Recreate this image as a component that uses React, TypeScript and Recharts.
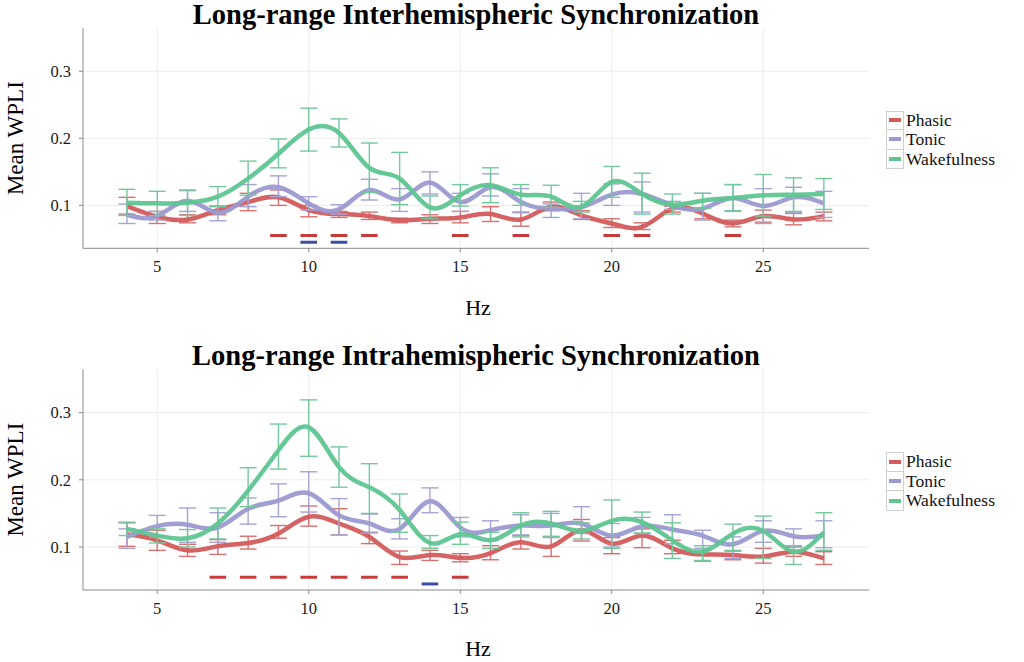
import React from 'react';
import {
  ComposedChart,
  Line,
  XAxis,
  YAxis,
  CartesianGrid,
  ErrorBar,
  Scatter,
  Legend,
} from 'recharts';

// ---------- data ----------
const hz = [4, 5, 6, 7, 8, 9, 10, 11, 12, 13, 14, 15, 16, 17, 18, 19, 20, 21, 22, 23, 24, 25, 26, 27];

const xTicks = [5, 10, 15, 20, 25];
const yTicks = [0.1, 0.2, 0.3];

// Interhemispheric
const interPhasic = [0.099, 0.083, 0.079, 0.093, 0.105, 0.112, 0.093, 0.087, 0.084, 0.078, 0.080, 0.082, 0.087, 0.079, 0.098, 0.085, 0.073, 0.068, 0.095, 0.088, 0.073, 0.084, 0.079, 0.084];
const interPhasicLo = [0.087, 0.073, 0.074, 0.086, 0.092, 0.100, 0.083, 0.082, 0.079, 0.074, 0.073, 0.074, 0.076, 0.069, 0.092, 0.079, 0.067, 0.064, 0.090, 0.080, 0.068, 0.075, 0.071, 0.077];
const interPhasicHi = [0.112, 0.091, 0.086, 0.099, 0.118, 0.123, 0.100, 0.091, 0.090, 0.081, 0.086, 0.091, 0.098, 0.090, 0.105, 0.092, 0.080, 0.074, 0.099, 0.096, 0.078, 0.093, 0.088, 0.090];

const interTonic = [0.086, 0.084, 0.107, 0.089, 0.113, 0.127, 0.103, 0.094, 0.123, 0.109, 0.134, 0.105, 0.127, 0.105, 0.095, 0.097, 0.116, 0.117, 0.100, 0.095, 0.111, 0.099, 0.112, 0.103];
const interTonicLo = [0.073, 0.078, 0.091, 0.077, 0.098, 0.113, 0.093, 0.087, 0.108, 0.091, 0.117, 0.091, 0.114, 0.089, 0.082, 0.080, 0.100, 0.090, 0.094, 0.078, 0.091, 0.073, 0.089, 0.082];
const interTonicHi = [0.102, 0.091, 0.122, 0.099, 0.131, 0.144, 0.113, 0.101, 0.139, 0.125, 0.150, 0.118, 0.147, 0.125, 0.102, 0.118, 0.132, 0.135, 0.106, 0.118, 0.131, 0.125, 0.127, 0.121];

const interWake = [0.104, 0.103, 0.104, 0.113, 0.140, 0.177, 0.213, 0.208, 0.156, 0.140, 0.097, 0.115, 0.130, 0.116, 0.113, 0.098, 0.135, 0.117, 0.101, 0.107, 0.111, 0.115, 0.116, 0.117];
const interWakeLo = [0.085, 0.085, 0.085, 0.098, 0.115, 0.156, 0.181, 0.187, 0.119, 0.101, 0.080, 0.099, 0.104, 0.100, 0.097, 0.090, 0.112, 0.087, 0.087, 0.096, 0.092, 0.084, 0.091, 0.094];
const interWakeHi = [0.124, 0.121, 0.123, 0.128, 0.166, 0.199, 0.245, 0.229, 0.193, 0.179, 0.114, 0.131, 0.156, 0.131, 0.130, 0.106, 0.158, 0.148, 0.117, 0.118, 0.131, 0.146, 0.141, 0.140];

const interSigPhasic = [9, 10, 11, 12, 15, 17, 20, 21, 24];
const interSigTonic = [10, 11];

// Intrahemispheric
const intraPhasic = [0.119, 0.110, 0.095, 0.101, 0.106, 0.120, 0.145, 0.135, 0.115, 0.085, 0.088, 0.084, 0.091, 0.107, 0.101, 0.125, 0.105, 0.117, 0.098, 0.089, 0.088, 0.086, 0.093, 0.083];
const intraPhasicLo = [0.101, 0.095, 0.086, 0.089, 0.097, 0.113, 0.131, 0.118, 0.105, 0.074, 0.080, 0.078, 0.081, 0.097, 0.086, 0.109, 0.090, 0.099, 0.090, 0.079, 0.081, 0.076, 0.086, 0.074];
const intraPhasicHi = [0.136, 0.125, 0.104, 0.111, 0.116, 0.132, 0.161, 0.157, 0.122, 0.094, 0.095, 0.090, 0.102, 0.117, 0.115, 0.141, 0.114, 0.127, 0.110, 0.095, 0.094, 0.098, 0.100, 0.093];

const intraTonic = [0.115, 0.131, 0.133, 0.129, 0.157, 0.169, 0.180, 0.147, 0.135, 0.127, 0.168, 0.129, 0.125, 0.132, 0.132, 0.135, 0.117, 0.131, 0.126, 0.117, 0.104, 0.124, 0.116, 0.117];
const intraTonicLo = [0.098, 0.115, 0.107, 0.107, 0.134, 0.145, 0.152, 0.118, 0.121, 0.112, 0.151, 0.115, 0.110, 0.118, 0.114, 0.120, 0.100, 0.120, 0.105, 0.098, 0.083, 0.107, 0.100, 0.099];
const intraTonicHi = [0.127, 0.147, 0.158, 0.151, 0.173, 0.194, 0.212, 0.172, 0.149, 0.142, 0.188, 0.144, 0.139, 0.148, 0.150, 0.160, 0.135, 0.144, 0.148, 0.125, 0.115, 0.139, 0.127, 0.139];

const intraWake = [0.127, 0.117, 0.113, 0.135, 0.184, 0.244, 0.278, 0.219, 0.189, 0.155, 0.106, 0.119, 0.110, 0.132, 0.135, 0.124, 0.139, 0.137, 0.110, 0.093, 0.120, 0.124, 0.093, 0.122];
const intraWakeLo = [0.117, 0.106, 0.100, 0.112, 0.160, 0.216, 0.235, 0.189, 0.150, 0.122, 0.098, 0.104, 0.098, 0.115, 0.116, 0.112, 0.098, 0.121, 0.083, 0.080, 0.095, 0.083, 0.074, 0.095];
const intraWakeHi = [0.137, 0.127, 0.126, 0.158, 0.218, 0.283, 0.319, 0.249, 0.224, 0.179, 0.117, 0.137, 0.122, 0.151, 0.153, 0.136, 0.170, 0.152, 0.136, 0.102, 0.134, 0.146, 0.102, 0.151];

const intraSigPhasic = [7, 8, 9, 10, 11, 12, 13, 15];
const intraSigTonic = [14];

const SIG_LEVEL_PHASIC = 0.055;
const SIG_LEVEL_TONIC = 0.045;

const seriesNames = ['Phasic', 'Tonic', 'Wakefulness'];

// ---------- style ----------
const SERIF = '"Liberation Serif", "Times New Roman", "DejaVu Serif", serif';
const COLORS = { phasic: '#d35b5b', tonic: '#9b99d0', wake: '#5ec591' };
const ERR_COLORS = { phasic: '#d87070', tonic: '#a6a4d4', wake: '#72c99c' };
const SIG_COLORS = { phasic: '#c93a3a', tonic: '#3b4ea3' };
const X_DOMAIN: [number, number] = [2.55, 28.49];
const Y_DOMAIN: [number, number] = [0.036, 0.3645];
const LEGEND_ROW = 19.6;

const err = (v: number, lo: number, hi: number) => [Math.max(0, v - lo), Math.max(0, hi - v)];

function buildRows(
  p: number[], pl: number[], ph: number[],
  t: number[], tl: number[], th: number[],
  w: number[], wl: number[], wh: number[]
) {
  return hz.map((h, i) => ({
    hz: h,
    phasic: p[i],
    phasicErr: err(p[i], pl[i], ph[i]),
    tonic: t[i],
    tonicErr: err(t[i], tl[i], th[i]),
    wake: w[i],
    wakeErr: err(w[i], wl[i], wh[i]),
  }));
}

const interRows = buildRows(
  interPhasic, interPhasicLo, interPhasicHi,
  interTonic, interTonicLo, interTonicHi,
  interWake, interWakeLo, interWakeHi
);
const intraRows = buildRows(
  intraPhasic, intraPhasicLo, intraPhasicHi,
  intraTonic, intraTonicLo, intraTonicHi,
  intraWake, intraWakeLo, intraWakeHi
);

const sigRows = (list: number[], level: number) => list.map((h) => ({ hz: h, sig: level }));

const DashShape = (color: string) => (props: any) => {
  const { cx, cy } = props;
  if (cx == null || cy == null) return null;
  return <line x1={cx - 8.3} x2={cx + 8.3} y1={cy} y2={cy} stroke={color} strokeWidth={3} />;
};

const LegendContent = () => {
  const colors = [COLORS.phasic, COLORS.tonic, COLORS.wake];
  return (
    <div style={{ fontFamily: SERIF, fontSize: 17.5, color: '#111' }}>
      {seriesNames.map((name, i) => (
        <div key={name} style={{ display: 'flex', alignItems: 'center', height: LEGEND_ROW }}>
          <div
            style={{
              width: 18,
              height: LEGEND_ROW,
              flex: '0 0 18px',
              boxSizing: 'border-box',
              border: '1px solid #cfcfcf',
              borderTop: i === 0 ? '1px solid #cfcfcf' : 'none',
              position: 'relative',
              background: '#fff',
            }}
          >
            <div
              style={{
                position: 'absolute',
                left: 2,
                right: 2,
                top: '50%',
                height: 4,
                marginTop: -2,
                background: colors[i],
              }}
            />
          </div>
          <span style={{ marginLeft: 2, lineHeight: `${LEGEND_ROW}px`, whiteSpace: 'nowrap' }}>{name}</span>
        </div>
      ))}
    </div>
  );
};

type PanelProps = {
  title: string;
  rows: any[];
  sigP: number[];
  sigT: number[];
  top: number;
  height: number;
  marginTop: number;
  marginBottom: number;
  legendTop: number;
  titleBaseline: number;
  hzBaseline: number;
};

function Panel(props: PanelProps) {
  const { title, rows, sigP, sigT, top, height, marginTop, marginBottom, legendTop, titleBaseline, hzBaseline } = props;
  const plotTop = marginTop;
  const plotBottom = height - marginBottom - 60;
  const plotMid = (plotTop + plotBottom) / 2;
  return (
    <div style={{ position: 'absolute', left: 0, top, width: 1024, height }}>
      <ComposedChart
        width={1024}
        height={height}
        data={rows}
        margin={{ top: marginTop, right: 155, bottom: marginBottom, left: 0 }}
      >
        <CartesianGrid stroke="#ececec" strokeWidth={1} horizontalValues={yTicks} verticalValues={xTicks} />
        <XAxis
          dataKey="hz"
          type="number"
          domain={X_DOMAIN}
          ticks={xTicks}
          allowDataOverflow
          height={60}
          tickSize={4}
          tickMargin={8}
          stroke="#8a8a8a"
          tick={{ fill: '#1a1a1a', fontSize: 16.5, fontFamily: SERIF }}
        />
        <XAxis
          xAxisId="top"
          orientation="top"
          type="number"
          domain={X_DOMAIN}
          height={0}
          tick={false}
          tickLine={false}
          stroke="#8a8a8a"
        />
        <YAxis
          type="number"
          domain={Y_DOMAIN}
          ticks={yTicks}
          allowDataOverflow
          width={83}
          tickSize={4}
          tickMargin={8}
          stroke="#8a8a8a"
          tickFormatter={(v: number) => String(v)}
          tick={{ fill: '#1a1a1a', fontSize: 16.5, fontFamily: SERIF }}
        />
        <YAxis
          yAxisId="right"
          orientation="right"
          type="number"
          domain={Y_DOMAIN}
          width={0}
          tick={false}
          tickLine={false}
          stroke="#8a8a8a"
        />
        <Line
          dataKey="phasic"
          name="Phasic"
          type="natural"
          stroke={COLORS.phasic}
          strokeWidth={4.5}
          strokeOpacity={0.95}
          dot={false}
          isAnimationActive={false}
        >
          <ErrorBar dataKey="phasicErr" width={8.5} stroke={ERR_COLORS.phasic} strokeWidth={1.4} direction="y" />
        </Line>
        <Line
          dataKey="tonic"
          name="Tonic"
          type="natural"
          stroke={COLORS.tonic}
          strokeWidth={4.5}
          strokeOpacity={0.95}
          dot={false}
          isAnimationActive={false}
        >
          <ErrorBar dataKey="tonicErr" width={8.5} stroke={ERR_COLORS.tonic} strokeWidth={1.4} direction="y" />
        </Line>
        <Line
          dataKey="wake"
          name="Wakefulness"
          type="natural"
          stroke={COLORS.wake}
          strokeWidth={4.5}
          strokeOpacity={0.95}
          dot={false}
          isAnimationActive={false}
        >
          <ErrorBar dataKey="wakeErr" width={8.5} stroke={ERR_COLORS.wake} strokeWidth={1.4} direction="y" />
        </Line>
        <Scatter
          data={sigRows(sigP, SIG_LEVEL_PHASIC)}
          dataKey="sig"
          shape={DashShape(SIG_COLORS.phasic)}
          legendType="none"
          isAnimationActive={false}
        />
        <Scatter
          data={sigRows(sigT, SIG_LEVEL_TONIC)}
          dataKey="sig"
          shape={DashShape(SIG_COLORS.tonic)}
          legendType="none"
          isAnimationActive={false}
        />
        <Legend
          layout="vertical"
          align="center"
          verticalAlign="middle"
          content={<LegendContent />}
          wrapperStyle={{ position: 'absolute', left: 886, top: legendTop, width: 138 }}
        />
      </ComposedChart>
      <svg
        width={1024}
        height={height}
        style={{ position: 'absolute', left: 0, top: 0, pointerEvents: 'none' }}
      >
        <text
          x={476}
          y={titleBaseline}
          textAnchor="middle"
          fontFamily={SERIF}
          fontWeight="bold"
          fontSize={28.5}
          fill="#000"
        >
          {title}
        </text>
        <text x={478} y={hzBaseline} textAnchor="middle" fontFamily={SERIF} fontSize={22} fill="#000">
          Hz
        </text>
        <text
          x={23}
          y={plotMid}
          textAnchor="middle"
          fontFamily={SERIF}
          fontSize={23}
          fill="#000"
          transform={`rotate(-90, 23, ${plotMid})`}
        >
          Mean WPLI
        </text>
      </svg>
    </div>
  );
}

export default function App() {
  return (
    <div style={{ position: 'absolute', left: 0, top: 0, width: 1024, height: 662, background: '#fff', overflow: 'hidden' }}>
      <Panel
        title="Long-range Interhemispheric Synchronization"
        rows={interRows}
        sigP={interSigPhasic}
        sigT={interSigTonic}
        top={0}
        height={330}
        marginTop={28}
        marginBottom={21.7}
        legendTop={110.6}
        titleBaseline={23.5}
        hzBaseline={315}
      />
      <Panel
        title="Long-range Intrahemispheric Synchronization"
        rows={intraRows}
        sigP={intraSigPhasic}
        sigT={intraSigTonic}
        top={330}
        height={332}
        marginTop={39.3}
        marginBottom={12}
        legendTop={122.3}
        titleBaseline={35}
        hzBaseline={326}
      />
    </div>
  );
}
